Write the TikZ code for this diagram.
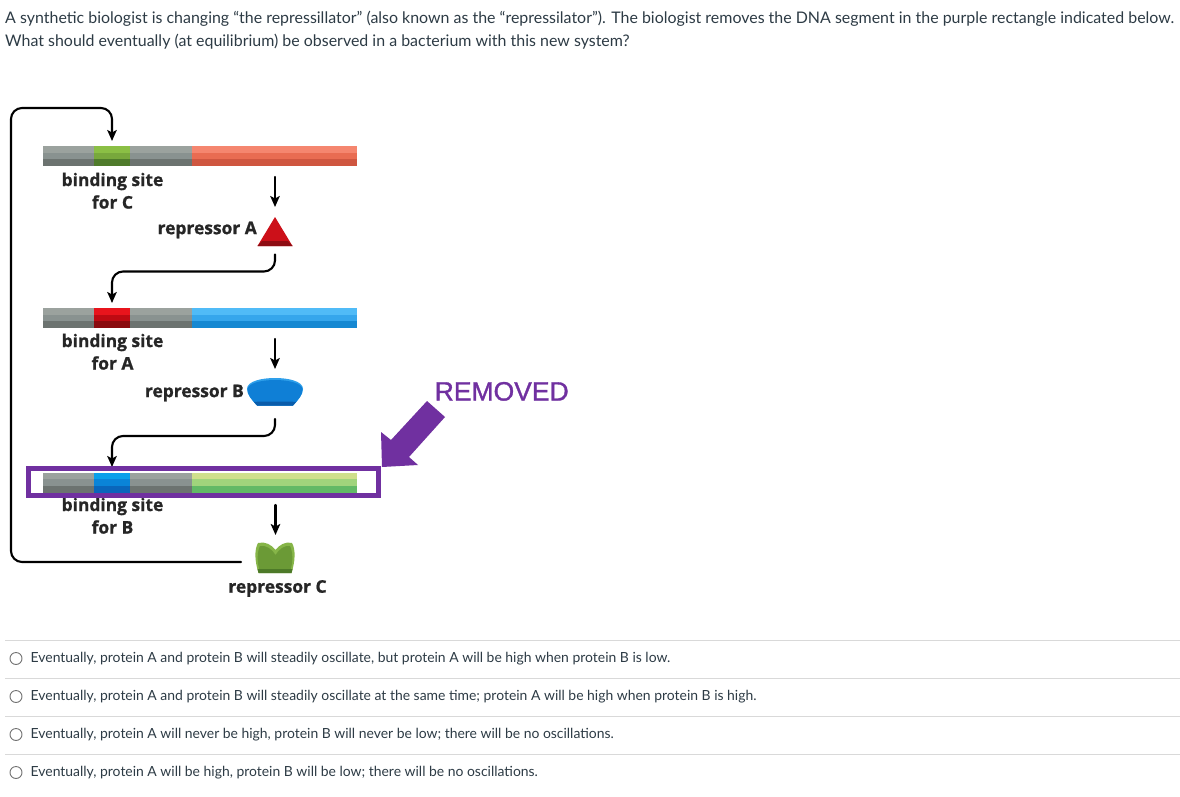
\documentclass[tikz,border=0pt]{standalone}
\usepackage{fontspec}
\setmainfont{Lato}
\newfontfamily\arialfont[FakeBold=1.2]{Liberation Sans}
\newfontfamily\figfont[BoldFeatures={FakeBold=1.0}]{Open Sans}
\usetikzlibrary{arrows.meta}
\definecolor{bodytext}{HTML}{2D3B45}
\definecolor{purp}{HTML}{7030A0}
\definecolor{gA}{HTML}{9BA29E}\definecolor{gB}{HTML}{899290}\definecolor{gC}{HTML}{6C7370}
\definecolor{sgA}{HTML}{8BBF45}\definecolor{sgB}{HTML}{78A83C}\definecolor{sgC}{HTML}{4F7B2B}
\definecolor{grA}{HTML}{F5866F}\definecolor{grB}{HTML}{E96C52}\definecolor{grC}{HTML}{CF5640}
\definecolor{srA}{HTML}{E8141C}\definecolor{srB}{HTML}{BE0A12}\definecolor{srC}{HTML}{8A0A0E}
\definecolor{gbA}{HTML}{50BBF7}\definecolor{gbB}{HTML}{35A6EC}\definecolor{gbC}{HTML}{1588D2}
\definecolor{sbA}{HTML}{0AA0EA}\definecolor{sbB}{HTML}{0A84D8}\definecolor{sbC}{HTML}{0A66BB}
\definecolor{ggA}{HTML}{CFDF8C}\definecolor{ggB}{HTML}{A0D47C}\definecolor{ggC}{HTML}{62B966}
\definecolor{triMain}{HTML}{CC1019}\definecolor{triDark}{HTML}{8E0C12}
\definecolor{blobMain}{HTML}{0F7FD6}\definecolor{blobDark}{HTML}{0A5CAA}\definecolor{blobLight}{HTML}{2E9FEA}
\definecolor{cupMain}{HTML}{6B9A36}\definecolor{cupDark}{HTML}{4D7A28}\definecolor{cupLight}{HTML}{86B548}
\tikzset{
  stem/.style={line width=2.1pt,black,line cap=round},
  arrowed/.style={stem,-{Stealth[length=11pt,width=9.5pt,inset=2.5pt]}},
  turn/.style={rounded corners=11pt},
  anchorbox/.style={inner sep=0pt,outer sep=0pt,minimum width=#1,minimum height=20pt},
  proteinbox/.style={inner sep=0pt,outer sep=0pt,minimum width=#1,minimum height=28pt},
  figlabel/.style={font=\figfont\bfseries\fontsize{17.4}{20}\selectfont,text=black!85,inner sep=0pt},
  qtext/.style={font=\fontsize{15.95}{18}\selectfont,text=bodytext,anchor=base west,inner sep=0pt},
  optext/.style={font=\fontsize{13.93}{16}\selectfont,text=bodytext,anchor=base west,inner sep=0pt},
  radio/.style={circle,draw=black!55,line width=0.9pt,fill=white,minimum size=12pt,inner sep=0pt},
  divider/.style={draw=black!15,line width=1pt},
}
% #1 top y, #2 #3 #4 site colours, #5 #6 #7 gene colours
\newcommand{\genebar}[7]{%
  \fill[gA] (43,#1) rectangle (192,#1+7);
  \fill[gB] (43,#1+6.5) rectangle (192,#1+13.5);
  \fill[gC] (43,#1+13) rectangle (192,#1+20);
  \fill[#2] (94,#1) rectangle (129.5,#1+7);
  \fill[#3] (94,#1+6.5) rectangle (129.5,#1+13.5);
  \fill[#4] (94,#1+13) rectangle (129.5,#1+20);
  \fill[#5] (192,#1) rectangle (356.5,#1+7);
  \fill[#6] (192,#1+6.5) rectangle (356.5,#1+13.5);
  \fill[#7] (192,#1+13) rectangle (356.5,#1+20);
}
\begin{document}
\begin{tikzpicture}[x=1pt,y=-1pt]
\useasboundingbox (0,0) rectangle (1180,797);
\fill[white] (0,0) rectangle (1180,797);

\node[qtext] (q1) at (5,24) {A synthetic biologist is changing “the repressillator” (also known as the “repressilator”). The biologist removes the DNA segment in the purple rectangle indicated below.};
\node[qtext] (q2) at (5,47) {What should eventually (at equilibrium) be observed in a bacterium with this new system?};

% gene bars
\genebar{146}{sgA}{sgB}{sgC}{grA}{grB}{grC}
\genebar{308}{srA}{srB}{srC}{gbA}{gbB}{gbC}
\genebar{472.5}{sbA}{sbB}{sbC}{ggA}{ggB}{ggC}

\node[anchorbox=313pt] (barC) at (199.5,156) {};
\node[anchorbox=313pt] (barA) at (199.5,318) {};
\node[anchorbox=313pt] (barB) at (199.5,482.5) {};

% proteins
\node[proteinbox=34pt] (protA) at (275,232) {};
\fill[triMain] (275,217) -- (292.5,246) -- (257.5,246) -- cycle;
\fill[triDark] (262,241) -- (288,241) -- (292.5,246) -- (257.5,246) -- cycle;

\node[proteinbox=56pt] (protB) at (275,392) {};
\fill[blobLight] (257,405.5) .. controls (252,400) and (247,395) .. (247,389)
  .. controls (247,381) and (262,378) .. (275,378) .. controls (288,378) and (303,381) .. (303,389)
  .. controls (303,395) and (298,400) .. (293,405.5) -- cycle;
\fill[blobMain] (257,405.5) .. controls (252,400) and (247.5,395) .. (247.5,389.5)
  .. controls (247.5,383) and (262,380) .. (275,380) .. controls (288,380) and (302.5,383) .. (302.5,389.5)
  .. controls (302.5,395) and (298,400) .. (293,405.5) -- cycle;
\fill[blobDark] (254,402) -- (260,401.5) -- (290,401.5) -- (296,402) -- (293,405.5) -- (257,405.5) -- cycle;

\node[proteinbox=41pt,minimum height=31pt] (protC) at (275.5,557.5) {};
\fill[cupLight] (258,543) .. controls (265,541) and (272,545) .. (275.5,550) .. controls (279,545) and (286,541) .. (292,543)
  .. controls (296,550) and (295,562) .. (291.5,573) -- (258.5,573)
  .. controls (255,562) and (254,550) .. (258,543) -- cycle;
\fill[cupMain] (260,546) .. controls (266,545) and (272,549) .. (275.5,555) .. controls (279,549) and (285,545) .. (290,546)
  .. controls (293,552) and (293,562) .. (290.5,570) -- (259.5,570)
  .. controls (257,562) and (257,552) .. (260,546) -- cycle;
\fill[cupDark] (291.5,573) -- (258.5,573) -- (257.5,569) -- (292.5,569) -- cycle;

% connector end points
\coordinate (cFree) at (241,562);
\coordinate (cLeft) at (11,562);
\coordinate (cTop) at (11,108);
\coordinate (cOver) at (112,108);
\coordinate (cIn) at (112,141);
\coordinate (aOut) at (275,254.5);
\coordinate (aMid) at (275,271.5);
\coordinate (aMidL) at (112,271.5);
\coordinate (aIn) at (112,303);
\coordinate (bOut) at (275,419);
\coordinate (bMid) at (275,436);
\coordinate (bMidL) at (112,436);
\coordinate (bIn) at (112,467);

% labels
\node[figlabel] (siteC1) at (112.5,181.5) {binding site};
\node[figlabel] (siteC2) at (112.5,202) {for C};
\node[figlabel] (siteA1) at (112.5,342.5) {binding site};
\node[figlabel] (siteA2) at (112.5,363) {for A};
\node[figlabel] (siteB1) at (112.5,506.5) {binding site};
\node[figlabel] (siteB2) at (112.5,527) {for B};
\node[figlabel,anchor=east] (labA) at (257,230) {repressor A};
\node[figlabel,anchor=east] (labB) at (244,393) {repressor B};
\node[figlabel] (labC) at (277.5,588.5) {repressor C};

% connectors
\draw[arrowed] (barC.south -| protA) ++(0,11) -- ([yshift=11pt]protA.north);
\draw[arrowed] (barA.south -| protB) ++(0,11) -- ([yshift=9pt]protB.north);
\draw[arrowed] (barB.south -| protC) ++(0,12.5) -- ([yshift=7pt]protC.north);
\draw[arrowed,turn] (cFree) -- (cLeft) -- (cTop) -- (cOver) -- (cIn);
\draw[arrowed,turn] (aOut) -- (aMid) -- (aMidL) -- (aIn);
\draw[arrowed,turn] (bOut) -- (bMid) -- (bMidL) -- (bIn);

% removal marker
\draw[draw=purp,line width=4.6pt] (28.3,468.3) rectangle (378.7,495.7);
\fill[purp] (382,467) -- (381,432) -- (391,440) -- (427,401) -- (445,417) -- (409,457) -- (418,465) -- cycle;
\node[font=\arialfont\fontsize{26.5}{30}\selectfont,text=purp,anchor=base west,inner sep=0pt] (removed) at (434.5,400.5) {REMOVED};

% answers
\foreach \yy in {640.5,678.5,716.5,754.5} \draw[divider] (5,\yy) -- (1180,\yy);
\node[radio] (r1) at (16,658.5) {};
\node[radio] (r2) at (16,696.5) {};
\node[radio] (r3) at (16,734.5) {};
\node[radio] (r4) at (16,772.5) {};
\node[optext] (o1) at (30.5,662) {Eventually, protein A and protein B will steadily oscillate, but protein A will be high when protein B is low.};
\node[optext] (o2) at (30.5,700) {Eventually, protein A and protein B will steadily oscillate at the same time; protein A will be high when protein B is high.};
\node[optext] (o3) at (30.5,738) {Eventually, protein A will never be high, protein B will never be low; there will be no oscillations.};
\node[optext] (o4) at (30.5,776) {Eventually, protein A will be high, protein B will be low; there will be no oscillations.};
\end{tikzpicture}
\end{document}
